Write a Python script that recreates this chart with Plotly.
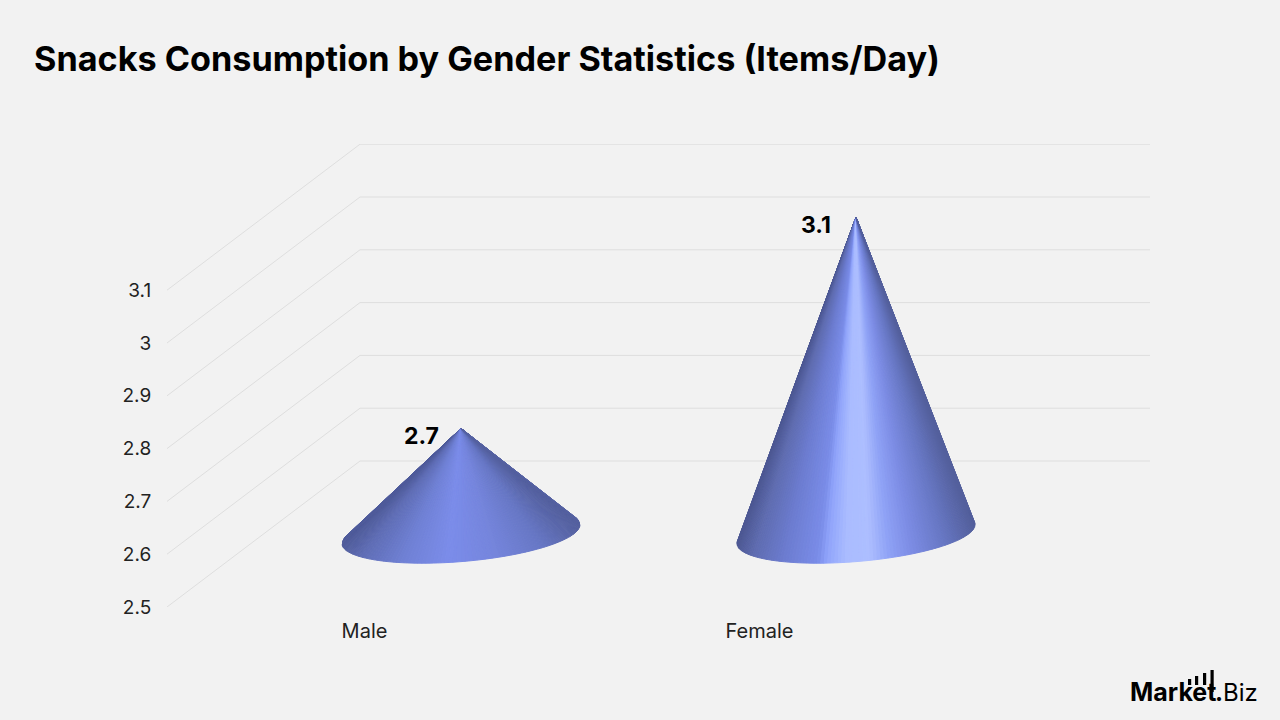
import math
import plotly.graph_objects as go

# Chart data
categories = ["Male", "Female"]
values = [2.7, 3.1]
y_ticks = [2.5, 2.6, 2.7, 2.8, 2.9, 3.0, 3.1]
y_tick_labels = ["2.5", "2.6", "2.7", "2.8", "2.9", "3", "3.1"]

TITLE = "Snacks Consumption by Gender Statistics (Items/Day)"
FONT = "Inter"
BG = "#f2f2f2"
GRID = "#dedede"

# Plot rectangle in page pixels
PLOT_L, PLOT_R, PLOT_T, PLOT_B = 167, 1150, 144, 607
PX_PER_CAT = 395.0
PX_PER_UNIT = 528.0

# Depth of the floor expressed in axis units
DEPTH_X = 193 / PX_PER_CAT
DEPTH_Y = 146 / PX_PER_UNIT
CONE_DEPTH = 0.5
RADIUS_X = 0.285
RADIUS_DEPTH = 0.2
BASE = y_ticks[0]

X_RANGE = [-0.5, -0.5 + (PLOT_R - PLOT_L) / PX_PER_CAT]
Y_RANGE = [BASE, BASE + (PLOT_B - PLOT_T) / PX_PER_UNIT]

# Shading across each cone, from its left silhouette to its right one
SHADES = [
    [(0.0, "#4f5b9a"), (0.08, "#5f6db5"), (0.25, "#6f80d4"), (0.45, "#7b8cea"),
     (0.65, "#7585dc"), (0.85, "#6676c4"), (1.0, "#54609f")],
    [(0.0, "#4d5893"), (0.07, "#5f6cb0"), (0.2, "#6c7cd0"), (0.34, "#7a8ce8"),
     (0.38, "#90a4fb"), (0.46, "#aabcff"), (0.56, "#adbeff"), (0.64, "#8fa2f6"),
     (0.74, "#7c8ce4"), (0.88, "#6676c2"), (1.0, "#535f9c")],
]


def paper_x(px):
    return (px - PLOT_L) / (PLOT_R - PLOT_L)


def paper_y(py):
    return (PLOT_B - py) / (PLOT_B - PLOT_T)


def shade(stops, f):
    for (f0, c0), (f1, c1) in zip(stops, stops[1:]):
        if f <= f1:
            k = (f - f0) / (f1 - f0) if f1 > f0 else 0
            rgb = [
                round(int(c0[i:i + 2], 16) * (1 - k) + int(c1[i:i + 2], 16) * k)
                for i in (1, 3, 5)
            ]
            return "rgb({},{},{})".format(*rgb)
    return stops[-1][1]


def cone_traces(cat_pos, value, stops, n=110):
    # Slices of a cone standing on the floor, from its left edge to its right edge
    cx = cat_pos + CONE_DEPTH * DEPTH_X
    cy = BASE + CONE_DEPTH * DEPTH_Y
    ax, ay = cx, value + CONE_DEPTH * DEPTH_Y

    def rim(t):
        s = RADIUS_DEPTH * math.sin(t)
        return (cx + RADIUS_X * math.cos(t) + s * DEPTH_X, cy + s * DEPTH_Y)

    # Apex in unit-circle coordinates of the base, for the tangent points
    uy = (ay - cy) / (RADIUS_DEPTH * DEPTH_Y)
    ux = ((ax - cx) - uy * RADIUS_DEPTH * DEPTH_X) / RADIUS_X
    theta = math.atan2(uy, ux)
    spread = math.acos(1 / math.hypot(ux, uy))
    t0 = theta + spread
    t1 = theta + 2 * math.pi - spread

    pts = [rim(t0 + (t1 - t0) * i / n) for i in range(n + 1)]
    xs = [p[0] for p in pts]
    lo, hi = min(xs), max(xs)
    traces = []
    for a, b in zip(pts, pts[1:]):
        mid = (a[0] + b[0]) / 2
        color = shade(stops, (mid - lo) / (hi - lo))
        traces.append(go.Scatter(
            x=[ax, a[0], b[0], ax], y=[ay, a[1], b[1], ay],
            mode="lines", fill="toself", fillcolor=color,
            line=dict(color=color, width=1),
            hoverinfo="skip", showlegend=False, cliponaxis=False,
        ))
    return traces, ax, ay


fig = go.Figure()

# Floor lines running back, then the horizontal lines on the back wall
left_x = X_RANGE[0]
wall_x = left_x + DEPTH_X
right_x = wall_x + len(categories)
for tick in y_ticks:
    fig.add_trace(go.Scatter(
        x=[left_x, wall_x, right_x],
        y=[tick, tick + DEPTH_Y, tick + DEPTH_Y],
        mode="lines", line=dict(color=GRID, width=1),
        hoverinfo="skip", showlegend=False, cliponaxis=False,
    ))

annotations = []
for i, (value, stops) in enumerate(zip(values, SHADES)):
    traces, ax, ay = cone_traces(i, value, stops)
    fig.add_traces(traces)
    annotations.append(dict(
        x=ax, y=ay, xref="x", yref="y", text=f"<b>{value}</b>",
        showarrow=False, xshift=-40, yshift=-8,
        font=dict(family=FONT, size=23, color="#000000"),
    ))

annotations.append(dict(
    x=paper_x(32), y=paper_y(58),
    xref="paper", yref="paper", xanchor="left", yanchor="middle",
    text=f"<b>{TITLE}</b>", showarrow=False,
    font=dict(family=FONT, size=34.2, color="#000000"),
))

# Wordmark, set in two runs so the bars can sit on the final letter of the first
annotations.append(dict(
    x=paper_x(1218), y=paper_y(692),
    xref="paper", yref="paper", xanchor="right", yanchor="middle",
    text="<b>Market</b>", showarrow=False,
    font=dict(family=FONT, size=25, color="#000000"),
))
annotations.append(dict(
    x=paper_x(1213), y=paper_y(692),
    xref="paper", yref="paper", xanchor="left", yanchor="middle",
    text="<b>.</b>Biz", showarrow=False,
    font=dict(family=FONT, size=24, color="#000000"),
))

# Rising bars of the wordmark
shapes = []
for x0, top, bottom in [(1188, 679, 685), (1195, 676, 685), (1203, 673, 685), (1210.5, 670, 692)]:
    shapes.append(dict(
        type="rect", xref="paper", yref="paper",
        x0=paper_x(x0), x1=paper_x(x0 + 3.2), y0=paper_y(bottom), y1=paper_y(top),
        fillcolor="#000000", line=dict(width=0),
    ))

fig.update_layout(
    width=1280, height=720,
    margin=dict(l=PLOT_L, r=1280 - PLOT_R, t=PLOT_T, b=720 - PLOT_B, autoexpand=False),
    paper_bgcolor=BG, plot_bgcolor=BG,
    annotations=annotations, shapes=shapes, hovermode=False,
    xaxis=dict(
        range=X_RANGE, tickmode="array", tickvals=list(range(len(categories))),
        ticktext=categories, showgrid=False, zeroline=False, showline=False,
        ticks="outside", ticklen=6, tickcolor="rgba(0,0,0,0)",
        tickfont=dict(family=FONT, size=20, color="#222222"),
    ),
    yaxis=dict(
        range=Y_RANGE, tickmode="array", tickvals=y_ticks, ticktext=y_tick_labels,
        showgrid=False, zeroline=False, showline=False,
        ticks="outside", ticklen=11, tickcolor="rgba(0,0,0,0)",
        tickfont=dict(family=FONT, size=19, color="#222222"),
    ),
)

fig.write_html("out.html", config={"displayModeBar": False})
